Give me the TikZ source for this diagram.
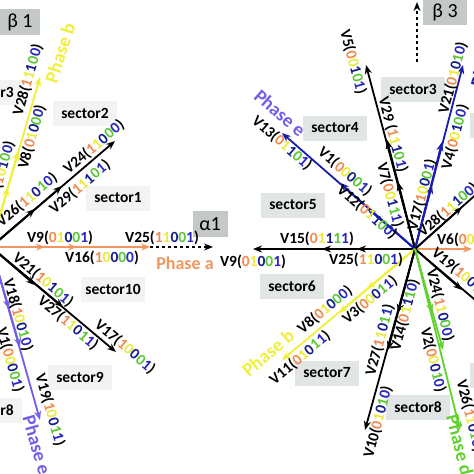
\documentclass[tikz,border=0pt]{standalone}
\usepackage{fontspec}
\setmainfont{Carlito}
\usetikzlibrary{arrows.meta}
\definecolor{co}{RGB}{240,140,80}
\definecolor{cy}{RGB}{235,235,60}
\definecolor{cn}{RGB}{20,30,140}
\definecolor{cg}{RGB}{90,200,50}
\definecolor{cb}{RGB}{40,40,190}
\definecolor{lorange}{RGB}{242,150,95}
\definecolor{lyellow}{RGB}{240,240,60}
\definecolor{lpurple}{RGB}{115,95,230}
\definecolor{lblue}{RGB}{25,30,175}
\definecolor{lgreen}{RGB}{95,210,45}
\definecolor{boxdark}{RGB}{196,200,200}
\definecolor{boxlight}{RGB}{226,229,229}
\definecolor{boxfaint}{RGB}{242,243,243}
\newcommand\dg[5]{(\textcolor{co}{#1}\textcolor{cy}{#2}\textcolor{cn}{#3}\textcolor{cg}{#4}\textcolor{cb}{#5})}
\tikzset{
  vec/.style={line width=1.8pt,-{Stealth[length=9pt,width=7pt]}},
  lbl/.style={font=\bfseries\fontsize{15.5}{16}\selectfont,inner sep=0pt},
  ph/.style={font=\bfseries\fontsize{19}{20}\selectfont,inner sep=0pt},
  sect/.style={font=\bfseries\fontsize{15.5}{16}\selectfont,fill=boxlight,minimum width=64pt,minimum height=25pt,inner sep=0pt},
  sectf/.style={sect,fill=boxfaint},
  axbox/.style={font=\fontsize{20}{20}\selectfont,fill=boxdark,minimum height=26pt,inner sep=0pt}
}
\begin{document}
\begin{tikzpicture}[x=1pt,y=-1pt]
\useasboundingbox (0,0) rectangle (474,474);
\fill[white] (0,0) rectangle (474,474);
% ---------------- left diagram ----------------
\coordinate (OL) at (-9,247);
\coordinate (la1) at (45,247);
\coordinate (la2) at (77,247);
\coordinate (la3) at (150,247);
\coordinate (la4) at (213,247);
\coordinate (lb1) at (35,209);
\coordinate (lb2) at (62,186);
\coordinate (lb3) at (115,141);
\coordinate (ly1) at (8,187);
\coordinate (ly2) at (18,151);
\coordinate (ly3) at (40,77);
\coordinate (lc1) at (35,285);
\coordinate (lc2) at (63,307);
\coordinate (lc3) at (116,352);
\coordinate (lp1) at (9,309);
\coordinate (lp2) at (20,347);
\coordinate (lp3) at (40,420);

\node[sectf] (s2l) at (85,113) {sector2};
\node[sectf] (s1l) at (118,198) {sector1};
\node[sectf] (s10l) at (113,289) {sector10};
\node[sectf] (s9l) at (80,377) {sector9};
\node[sectf] (s3l) at (-10,92) {sector3};
\node[sectf] (s8l) at (-10,410) {sector8};

\foreach \p in {la1,la2,la3} \draw[vec,lorange] (OL) -- (\p);
\draw[vec,dashed,line width=1.5pt] (la3) -- (la4);
\foreach \p in {lb1,lb2,lb3} \draw[vec] (OL) -- (\p);
\foreach \p in {ly1,ly2,ly3} \draw[vec,lyellow] (OL) -- (\p);
\foreach \p in {lc1,lc2,lc3} \draw[vec] (OL) -- (\p);
\foreach \p in {lp1,lp2,lp3} \draw[vec,lpurple] (OL) -- (\p);

\node[axbox,minimum width=40pt] (b1) at (20,22) {β 1};
\node[axbox,minimum width=35pt] (a1) at (210,224) {α1};

\node[lbl,rotate=74] (t1) at (28,80) {V28\dg11100};
\node[lbl,rotate=74] (t2) at (32,137) {V8\dg01000};
\node[lbl,rotate=74] (t3) at (0,177) {V20\dg10100};
\node[lbl,rotate=40] (t4) at (94,147) {V24\dg11000};
\node[lbl,rotate=40] (t5) at (27,200) {V26\dg11010};
\node[lbl,rotate=40] (t6) at (80,187) {V29\dg11101};
\node[lbl] (t7) at (60,238) {V9\dg01001};
\node[lbl] (t8) at (102,258) {V16\dg10000};
\node[lbl] (t9) at (162,238) {V25\dg11001};
\node[lbl,rotate=-40] (t10) at (43,280) {V21\dg10101};
\node[lbl,rotate=-40] (t11) at (68,323) {V27\dg11011};
\node[lbl,rotate=-40] (t12) at (125,347) {V17\dg10001};
\node[lbl,rotate=-74] (t13) at (18,315) {V18\dg10010};
\node[lbl,rotate=-74] (t14) at (10,360) {V1\dg00001};
\node[lbl,rotate=-74] (t15) at (50,410) {V19\dg10011};
\node[ph,lpurple,rotate=-74] (pel) at (37,445) {Phase e};
\node[ph,lyellow,rotate=72] (pbl) at (60,53) {Phase b};
\node[ph,lorange,font=\bfseries\fontsize{18}{18}\selectfont] (pa) at (185,263) {Phase a};

% ---------------- right diagram ----------------
\coordinate (OR) at (415,249);
\coordinate (ra1) at (357,249);
\coordinate (ra2) at (322,249);
\coordinate (ra3) at (253,249);
\coordinate (rb1) at (472,249);
\coordinate (rc1) at (367,208);
\coordinate (rc2) at (340,183);
\coordinate (rc3) at (282,133);
\coordinate (rd1) at (398,182);
\coordinate (rd2) at (387,140);
\coordinate (rd3) at (366,65);
\coordinate (re1) at (432,185);
\coordinate (re2) at (442,142);
\coordinate (re3) at (463,65);
\coordinate (rf1) at (462,207);
\coordinate (rf2) at (500,173);
\coordinate (rg1) at (462,290);
\coordinate (rg2) at (500,321);
\coordinate (rh1) at (367,289);
\coordinate (rh2) at (339,313);
\coordinate (rh3) at (282,360);
\coordinate (ri1) at (398,313);
\coordinate (ri2) at (388,350);
\coordinate (ri3) at (365,430);
\coordinate (rj1) at (432,313);
\coordinate (rj2) at (443,350);
\coordinate (rj3) at (460,430);
\coordinate (rk1) at (417,62);
\coordinate (rk2) at (417,2);

\node[sect] (s3r) at (413,89) {sector3};
\node[sect] (s4r) at (335,128) {sector4};
\node[sect] (s5r) at (293,205) {sector5};
\node[sect] (s6r) at (292,286) {sector6};
\node[sect] (s7r) at (327,373) {sector7};
\node[sect] (s8r) at (418,407) {sector8};
\node[sect] (s2r) at (502,125) {sector2};
\node[sect] (s9r) at (502,375) {sector9};

\foreach \p in {ra1,ra2,ra3} \draw[vec] (OR) -- (\p);
\draw[vec,lorange] (OR) -- (rb1);
\foreach \p in {rc1,rc2,rc3} \draw[vec,lblue] (OR) -- (\p);
\foreach \p in {rd1,rd2,rd3} \draw[vec] (OR) -- (\p);
\foreach \p in {re1,re2,re3} \draw[vec,lblue] (OR) -- (\p);
\draw[vec] (OR) -- (rf1); \draw[line width=1.8pt] (OR) -- (rf2);
\draw[vec] (OR) -- (rg1); \draw[line width=1.8pt] (OR) -- (rg2);
\foreach \p in {rh1,rh2,rh3} \draw[vec,lyellow] (OR) -- (\p);
\foreach \p in {ri1,ri2,ri3} \draw[vec] (OR) -- (\p);
\foreach \p in {rj1,rj2,rj3} \draw[vec,lgreen] (OR) -- (\p);
\draw[vec,dashed,line width=1.5pt] (rk1) -- (rk2);

\node[axbox,minimum width=44pt] (b3) at (445,12) {β 3};

\node[lbl,rotate=-75] (u1) at (353,62) {V5\dg00101};
\node[lbl,rotate=-75] (u2) at (393,135) {V29 \dg11101};
\node[lbl,rotate=-75] (u3) at (390,195) {V7\dg00111};
\node[lbl,rotate=75] (u4) at (453,78) {V21\dg01010};
\node[lbl,rotate=75] (u5) at (455,137) {V4\dg00100};
\node[lbl,rotate=75] (u6) at (422,195) {V17\dg10001};
\node[lbl,rotate=-41] (u7) at (282,143) {V13\dg01101};
\node[ph,lpurple,rotate=-41] (per) at (280,113) {Phase e};
\node[lbl,rotate=-41] (u8) at (345,172) {V1\dg00001};
\node[lbl,rotate=-41] (u9) at (367,212) {V12\dg01100};
\node[lbl] (u10) at (317,239) {V15\dg01111};
\node[lbl] (u11) at (366,260) {V25\dg11001};
\node[lbl] (u12) at (253,262) {V9\dg01001};
\node[lbl] (u13) at (470,240) {V6\dg00110};
\node[lbl,rotate=41] (u14) at (448,210) {V28\dg11100};
\node[lbl,rotate=-40] (u15) at (462,275) {V19\dg10011};
\node[lbl,rotate=40] (u16) at (370,300) {V3\dg00011};
\node[lbl,rotate=40] (u17) at (325,310) {V8\dg01000};
\node[lbl,rotate=40] (u18) at (300,358) {V11\dg01011};
\node[ph,lyellow,rotate=40] (pbr) at (268,353) {Phase b};
\node[lbl,rotate=75] (u19) at (405,315) {V14\dg01110};
\node[lbl,rotate=75] (u20) at (380,340) {V27\dg11011};
\node[lbl,rotate=75] (u21) at (378,422) {V10\dg01010};
\node[lbl,rotate=-76] (u22) at (440,305) {V24\dg11000};
\node[lbl,rotate=-76] (u23) at (433,360) {V2\dg00010};
\node[lbl,rotate=-76] (u24) at (470,416) {V26\dg11010};
\node[ph,lgreen,rotate=-76] (pdr) at (460,445) {Phase d};
\node[ph,lblue,rotate=75] (pcr) at (484,58) {Phase c};
\end{tikzpicture}
\end{document}
